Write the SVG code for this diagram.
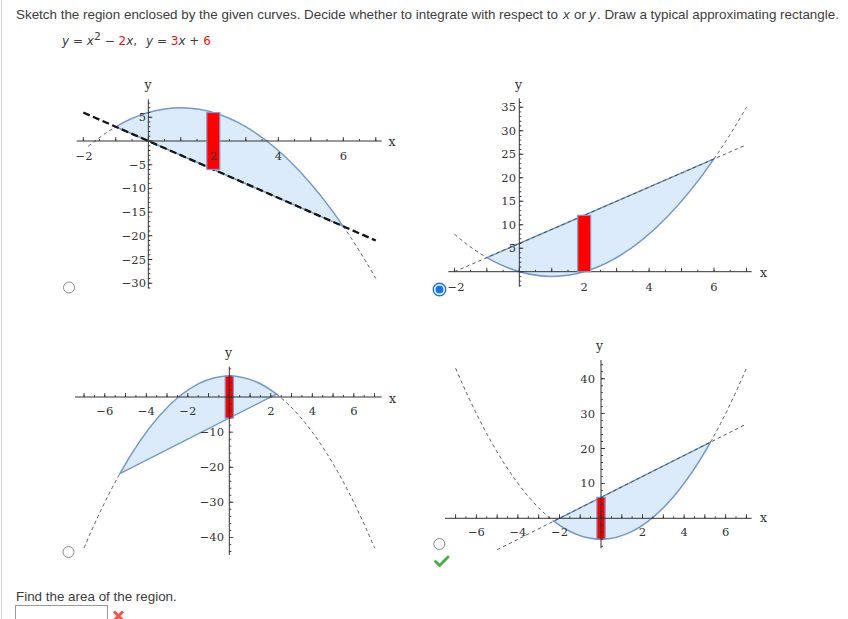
<svg xmlns="http://www.w3.org/2000/svg" width="848" height="619" viewBox="0 0 848 619">
<style>
.hd{font-family:"Liberation Sans",Arial,sans-serif;font-size:13.4px;fill:#3d3d3d}
.eq{font-family:"DejaVu Sans",Verdana,sans-serif;font-size:12px;fill:#3d3d3d}
.it{font-style:italic}
.rd{fill:#ee1111}
.reg{fill:#dcebfc;stroke:#7399cc;stroke-width:1.5;stroke-linejoin:round}
.rect{fill:#ff0000;stroke:#7f9ccc;stroke-width:1.2}
.dsh{fill:none;stroke:#4a4a4a;stroke-width:0.9;stroke-dasharray:3.5 3}
.thick{fill:none;stroke:#151515;stroke-width:2.3;stroke-dasharray:7 3.5}
.ax{stroke:#333;stroke-width:1;fill:none}
.tk{fill:none;stroke:#333}
.lbe{font-family:"DejaVu Serif","Liberation Serif",serif;font-size:11.5px;fill:#333;text-anchor:end}
.lbm{font-family:"DejaVu Serif","Liberation Serif",serif;font-size:11.5px;fill:#333;text-anchor:middle}
.axl{font-family:"DejaVu Serif","Liberation Serif",serif;font-size:12.5px;fill:#333;text-anchor:middle}
.radio{fill:#fff;stroke:#8a8a8a;stroke-width:1}
</style>
<line x1="1.5" y1="0" x2="1.5" y2="619" stroke="#d6d6d6" stroke-width="1"/>
<g id="header">
<text class="hd" x="16" y="19">Sketch the region enclosed by the given curves. Decide whether to integrate with respect to</text>
<text class="hd it" x="563" y="19">x</text>
<text class="hd" x="574" y="19">or</text>
<text class="hd it" x="589" y="19">y</text>
<text class="hd" x="597" y="19">. Draw a typical approximating rectangle.</text>
<text class="eq" x="62" y="45"><tspan class="it">y</tspan> = <tspan class="it">x</tspan><tspan dy="-5" font-size="11">2</tspan><tspan dy="5"> − </tspan><tspan class="rd">2</tspan><tspan class="it">x</tspan>, <tspan class="it" dx="5">y</tspan> = <tspan class="rd">3</tspan><tspan class="it">x</tspan> + <tspan class="rd">6</tspan></text>
</g>

<g id="plot1">
<path class="reg" d="M115.8,126.78 Q229.55,60.42 343.3,226.32 Z"/>
<path class="dsh" d="M88.18,146.32 Q101.99,134.93 115.8,126.78 M343.3,226.32 Q359.55,250.02 375.8,278.46"/>
<path class="thick" d="M83.3,112.56 L375.8,240.54"/>
<line class="ax" x1="76.7" y1="141" x2="381.7" y2="141"/>
<line class="ax" x1="148.3" y1="99.3" x2="148.3" y2="288.3"/>
<line class="tk" x1="82.85" y1="140" x2="376.5" y2="140" stroke-width="2" stroke-dasharray="0.9 15.35"/>
<line class="tk" x1="82.85" y1="139" x2="376.5" y2="139" stroke-width="4" stroke-dasharray="0.9 31.6"/>
<line class="tk" x1="149.3" y1="102.63" x2="149.3" y2="288.5" stroke-width="2" stroke-dasharray="0.9 3.84"/>
<line class="tk" x1="150.3" y1="116.85" x2="150.3" y2="284" stroke-width="4" stroke-dasharray="0.9 22.8"/>
<rect class="rect" x="206.8" y="112.56" width="13" height="56.88"/>
<text class="lbm" x="84" y="159.5">−2</text>
<text class="lbm" x="213.3" y="159.5">2</text>
<text class="lbm" x="278.3" y="159.5">4</text>
<text class="lbm" x="343.3" y="159.5">6</text>
<text class="lbe" x="146" y="121.3">5</text>
<text class="lbe" x="146" y="168.7">−5</text>
<text class="lbe" x="146" y="192.4">−10</text>
<text class="lbe" x="146" y="216.1">−15</text>
<text class="lbe" x="146" y="239.8">−20</text>
<text class="lbe" x="146" y="263.5">−25</text>
<text class="lbe" x="146" y="287.2">−30</text>
<text class="axl" x="148" y="89">y</text>
<text class="axl" x="392" y="145.5">x</text>
<circle class="radio" cx="69" cy="287.5" r="5.5"/>
</g>

<g id="plot2">
<path class="reg" d="M486.85,257.6 Q600.43,323.4 714,158.9 Z"/>
<path class="dsh" d="M454.4,234.1 Q470.63,248.2 486.85,257.6 M714,158.9 Q730.23,135.4 746.45,107.2 M454.4,271.7 L746.45,144.8"/>
<line class="ax" x1="448.3" y1="271.7" x2="751.7" y2="271.7"/>
<line class="ax" x1="519.3" y1="98.3" x2="519.3" y2="286.7"/>
<line class="tk" x1="453.95" y1="270.7" x2="747" y2="270.7" stroke-width="2" stroke-dasharray="0.9 15.325"/>
<line class="tk" x1="453.95" y1="269.7" x2="747" y2="269.7" stroke-width="4" stroke-dasharray="0.9 31.55"/>
<line class="tk" x1="520.3" y1="102.05" x2="520.3" y2="286.5" stroke-width="2" stroke-dasharray="0.9 3.8"/>
<line class="tk" x1="521.3" y1="106.75" x2="521.3" y2="272.5" stroke-width="4" stroke-dasharray="0.9 22.6"/>
<rect class="rect" x="577.71" y="215.3" width="12.98" height="56.4"/>
<text class="lbm" x="456" y="290.5">−2</text>
<text class="lbm" x="584.2" y="290.5">2</text>
<text class="lbm" x="649.1" y="290.5">4</text>
<text class="lbm" x="714" y="290.5">6</text>
<text class="lbe" x="516" y="252.2">5</text>
<text class="lbe" x="516" y="228.7">10</text>
<text class="lbe" x="516" y="205.2">15</text>
<text class="lbe" x="516" y="181.7">20</text>
<text class="lbe" x="516" y="158.2">25</text>
<text class="lbe" x="516" y="134.7">30</text>
<text class="lbe" x="516" y="111.2">35</text>
<text class="axl" x="518.5" y="89">y</text>
<text class="axl" x="763.5" y="277">x</text>
<circle cx="439.5" cy="289.5" r="6.2" fill="#fff" stroke="#1a73e8" stroke-width="1.4"/>
<circle cx="439.5" cy="289.5" r="4" fill="#1a73e8"/>
</g>

<g id="plot3">
<path class="reg" d="M119.85,473.61 Q198.18,333.82 276.5,394.1 Z"/>
<path class="dsh" d="M84.05,547.93 Q101.96,505.55 119.85,473.61 M276.5,394.1 Q325.52,431.83 374.55,547.93"/>
<rect class="rect" x="225.15" y="375.94" width="8.3" height="42.12"/>
<line class="ax" x1="75" y1="397" x2="381.7" y2="397"/>
<line class="ax" x1="229.3" y1="366.7" x2="229.3" y2="555"/>
<line class="tk" x1="83.6" y1="396" x2="375" y2="396" stroke-width="2" stroke-dasharray="0.9 9.475"/>
<line class="tk" x1="83.6" y1="395" x2="375" y2="395" stroke-width="4" stroke-dasharray="0.9 19.85"/>
<line class="tk" x1="230.3" y1="368.47" x2="230.3" y2="552" stroke-width="2" stroke-dasharray="0.9 6.12"/>
<line class="tk" x1="231.3" y1="396.55" x2="231.3" y2="538" stroke-width="4" stroke-dasharray="0.9 34.2"/>
<text class="lbm" x="104.8" y="415">−6</text>
<text class="lbm" x="146.3" y="415">−4</text>
<text class="lbm" x="187.8" y="415">−2</text>
<text class="lbm" x="270.8" y="415">2</text>
<text class="lbm" x="312.3" y="415">4</text>
<text class="lbm" x="353.8" y="415">6</text>
<text class="lbe" x="224" y="436.1">−10</text>
<text class="lbe" x="224" y="471.2">−20</text>
<text class="lbe" x="224" y="506.3">−30</text>
<text class="lbe" x="224" y="541.4">−40</text>
<text class="axl" x="228.5" y="357">y</text>
<text class="axl" x="392.5" y="402.5">x</text>
<circle class="radio" cx="68.5" cy="552" r="5.5"/>
</g>

<g id="plot4">
<path class="reg" d="M553.75,521.18 Q632.16,581.12 710.56,442.13 Z"/>
<path class="dsh" d="M455.61,368.23 Q504.69,483.66 553.75,521.18 M710.56,442.13 Q728.47,410.37 746.39,368.23 M497.15,549.71 L746.39,424.07"/>
<rect class="rect" x="596.85" y="497.36" width="8.3" height="41.88"/>
<line class="ax" x1="445" y1="518.3" x2="751.7" y2="518.3"/>
<line class="ax" x1="601" y1="360" x2="601" y2="548.3"/>
<line class="tk" x1="455.16" y1="517.3" x2="747" y2="517.3" stroke-width="2" stroke-dasharray="0.9 9.485"/>
<line class="tk" x1="455.16" y1="516.3" x2="747" y2="516.3" stroke-width="4" stroke-dasharray="0.9 19.87"/>
<line class="tk" x1="602" y1="364.29" x2="602" y2="547" stroke-width="2" stroke-dasharray="0.9 6.08"/>
<line class="tk" x1="603" y1="378.25" x2="603" y2="519" stroke-width="4" stroke-dasharray="0.9 34"/>
<text class="lbm" x="476.4" y="535.5">−6</text>
<text class="lbm" x="517.9" y="535.5">−4</text>
<text class="lbm" x="559.5" y="535.5">−2</text>
<text class="lbm" x="642.5" y="535.5">2</text>
<text class="lbm" x="684.1" y="535.5">4</text>
<text class="lbm" x="725.6" y="535.5">6</text>
<text class="lbe" x="595" y="487.4">10</text>
<text class="lbe" x="595" y="452.5">20</text>
<text class="lbe" x="595" y="417.6">30</text>
<text class="lbe" x="595" y="382.7">40</text>
<text class="axl" x="599.5" y="350">y</text>
<text class="axl" x="763.5" y="522">x</text>
<circle class="radio" cx="439.3" cy="544" r="5.5"/>
<path d="M435.5,561.5 L439.5,565.5 L448,557" fill="none" stroke="#4caf50" stroke-width="3" stroke-linecap="round" stroke-linejoin="round"/>
</g>

<g id="answer">
<text class="hd" x="16" y="601" font-size="13.3">Find the area of the region.</text>
<rect x="15.5" y="605.5" width="92" height="20" fill="#fff" stroke="#9a9a9a" stroke-width="1"/>
<path d="M114,611.5 L123,620.5 M123,611.5 L114,620.5" stroke="#f05454" stroke-width="3"/>
</g>
</svg>
